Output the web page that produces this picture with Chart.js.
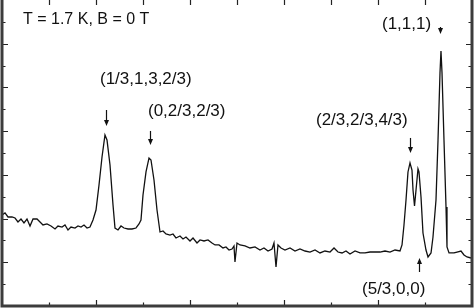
<!DOCTYPE html>
<html>
<head>
<meta charset="utf-8">
<script src="https://cdn.jsdelivr.net/npm/chart.js@4"></script>
<style>
  html, body { margin: 0; padding: 0; background: #fff; }
  #wrap { width: 474px; height: 308px; position: relative; }
</style>
</head>
<body>
<div id="wrap"><canvas id="myChart"></canvas></div>
<script>
// scan position (arb. units) and intensity (arb. units)
var scanX = [0, .064, .128, .213, .277, .340, .404, .468, .532, .596, .660, .745, .809, .872, .957,
  1.043, 1.128, 1.191, 1.277, 1.340, 1.404, 1.468, 1.553, 1.617, 1.681, 1.745, 1.809, 1.872, 1.936,
  2.000, 2.064, 2.128, 2.191, 2.234, 2.298, 2.362, 2.404, 2.468, 2.532, 2.596, 2.681, 2.766, 2.851, 2.915, 2.957,
  3.000, 3.064, 3.128, 3.170, 3.234, 3.298, 3.362, 3.426, 3.489, 3.574, 3.638, 3.702, 3.787, 3.851, 3.915,
  4.000, 4.064, 4.149, 4.213, 4.298, 4.383, 4.468, 4.532, 4.617, 4.702, 4.766, 4.830, 4.894, 4.936, 4.957,
  5.000, 5.064, 5.170, 5.277, 5.383, 5.489, 5.574, 5.660, 5.745, 5.787, 5.830, 5.872, 5.936,
  6.021, 6.128, 6.234, 6.340, 6.447, 6.553, 6.660, 6.766, 6.872, 6.979,
  7.064, 7.149, 7.234, 7.319, 7.404, 7.511, 7.617, 7.723, 7.830, 7.936,
  8.043, 8.149, 8.255, 8.362, 8.468, 8.511, 8.553, 8.596, 8.638, 8.681, 8.723, 8.745, 8.777, 8.809, 8.851, 8.872, 8.915, 8.957,
  9.021, 9.064, 9.128, 9.170, 9.234, 9.277, 9.319, 9.340, 9.362, 9.404, 9.447, 9.468, 9.511, 9.617, 9.681, 9.766, 9.830, 9.894, 9.979];

var intensity = [2.082, 2.128, 2.036, 2.036, 2.013, 1.922, 1.990, 1.899, 1.990, 1.830, 1.990, 1.990, 1.922, 1.853, 1.876,
  1.830, 1.762, 1.830, 1.807, 1.853, 1.739, 1.807, 1.784, 1.830, 1.807, 1.853, 1.784, 1.807, 1.968,
  2.196, 2.768, 3.409, 3.912, 3.798, 3.226, 2.311, 1.784, 1.739, 1.830, 1.784, 1.762, 1.762, 1.784, 1.876, 1.968,
  2.539, 3.066, 3.386, 3.340, 2.883, 2.196, 1.693, 1.716, 1.647, 1.624, 1.647, 1.556, 1.601, 1.533, 1.579,
  1.487, 1.556, 1.441, 1.510, 1.487, 1.510, 1.441, 1.396, 1.396, 1.327, 1.350, 1.281, 1.304, 1.373, 1.007,
  1.441, 1.396, 1.373, 1.327, 1.350, 1.281, 1.327, 1.258, 1.304, 1.441, 0.892, 1.396, 1.327,
  1.281, 1.327, 1.258, 1.304, 1.258, 1.235, 1.281, 1.213, 1.258, 1.235,
  1.327, 1.235, 1.213, 1.258, 1.190, 1.258, 1.213, 1.213, 1.235, 1.235,
  1.235, 1.258, 1.235, 1.281, 1.258, 1.396, 1.853, 2.425, 3.066, 3.272, 3.111, 2.654, 2.288, 2.654, 3.134, 3.066, 2.494, 1.670,
  1.281, 1.121, 1.213, 1.579, 2.425, 3.798, 5.331, 5.834, 5.331, 3.798, 2.265, 1.350, 1.213, 1.213, 1.235, 1.258, 1.167, 1.121, 1.098];

// peak labels: text, left x, middle y, font size
var labelText = ["T = 1.7 K, B = 0 T", "(1/3,1,3,2/3)", "(0,2/3,2/3)", "(2/3,2/3,4/3)", "(5/3,0,0)", "(1,1,1)"];
var labelX = [0.447, 2.085, 3.106, 6.681, 7.660, 8.085];
var labelY = [6.543, 5.193, 4.461, 4.255, 0.389, 6.452];
var labelSize = [16, 17, 17, 17, 17, 17];

// arrows: x, tail y, tip y
var arrowX = [2.213, 3.149, 8.674, 8.872, 9.319];
var arrowFrom = [4.484, 4.004, 3.844, 0.778, 6.383];
var arrowTo = [4.118, 3.683, 3.500, 1.098, 6.223];

var frameColor = "#3c3c3c";

const framePlugin = {
  id: "frame",
  afterDraw(chart) {
    const ctx = chart.ctx;
    const a = chart.chartArea;
    const xs = chart.scales.x, ys = chart.scales.y;
    ctx.save();

    // inward ticks
    ctx.strokeStyle = "#222";
    ctx.lineWidth = 1.2;
    ctx.beginPath();
    for (let v = 1; v < 10; v++) {
      const p = Math.round(xs.getPixelForValue(v)) + 0.5;
      const len = v % 2 === 0 ? 6 : 3.5;
      ctx.moveTo(p, a.bottom); ctx.lineTo(p, a.bottom - len);
      ctx.moveTo(p, a.top); ctx.lineTo(p, a.top + 5);
    }
    for (let v = 0.5; v < 7; v += 0.5) {
      const p = Math.round(ys.getPixelForValue(v)) + 0.5;
      const len = v % 1 === 0 ? 6 : 3.5;
      ctx.moveTo(a.left, p); ctx.lineTo(a.left + len, p);
      ctx.moveTo(a.right, p); ctx.lineTo(a.right - len, p);
    }
    ctx.stroke();

    // frame (top edge is cropped off in the figure)
    ctx.strokeStyle = frameColor;
    ctx.lineWidth = 3;
    ctx.beginPath();
    ctx.moveTo(a.left, 0);
    ctx.lineTo(a.left, a.bottom);
    ctx.lineTo(a.right, a.bottom);
    ctx.lineTo(a.right, 0);
    ctx.stroke();

    // labels
    ctx.fillStyle = "#111";
    ctx.textAlign = "left";
    ctx.textBaseline = "middle";
    labelText.forEach((t, i) => {
      ctx.font = labelSize[i] + "px 'Liberation Sans', Arial, sans-serif";
      ctx.fillText(t, xs.getPixelForValue(labelX[i]), ys.getPixelForValue(labelY[i]));
    });

    // arrows
    ctx.strokeStyle = "#111";
    ctx.lineWidth = 1.2;
    arrowX.forEach((x, i) => {
      const px = Math.round(xs.getPixelForValue(x)) + 0.5;
      const y0 = ys.getPixelForValue(arrowFrom[i]);
      const y1 = ys.getPixelForValue(arrowTo[i]);
      const dir = y1 > y0 ? 1 : -1;
      ctx.beginPath();
      ctx.moveTo(px, y0);
      ctx.lineTo(px, y1 - dir * 4);
      ctx.stroke();
      ctx.beginPath();
      ctx.moveTo(px, y1);
      ctx.lineTo(px - 2.5, y1 - dir * 6);
      ctx.lineTo(px + 2.5, y1 - dir * 6);
      ctx.closePath();
      ctx.fill();
    });
    ctx.restore();
  }
};

new Chart(document.getElementById("myChart"), {
  type: "line",
  data: {
    datasets: [{
      data: scanX.map((x, i) => ({ x: x, y: intensity[i] })),
      borderColor: "#111",
      borderWidth: 1.3,
      pointRadius: 0,
      tension: 0,
      fill: false
    }]
  },
  options: {
    responsive: true,
    maintainAspectRatio: false,
    animation: false,
    layout: { padding: { left: 2, right: 2, top: 0, bottom: 2 } },
    plugins: { legend: { display: false }, tooltip: { enabled: false } },
    scales: {
      x: { type: "linear", min: 0, max: 10, display: false },
      y: { min: 0, max: 7, display: false }
    }
  },
  plugins: [framePlugin]
});
</script>
</body>
</html>
